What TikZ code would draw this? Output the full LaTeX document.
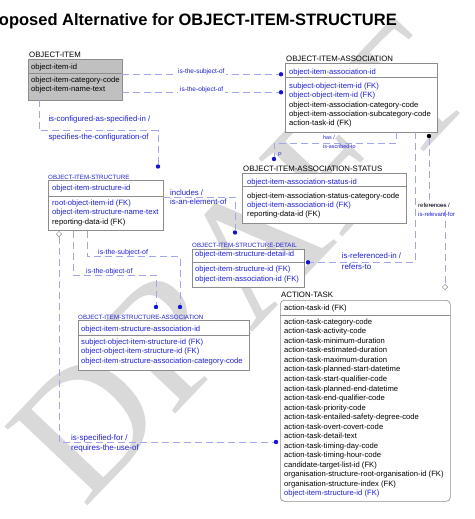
\documentclass[tikz,border=0pt]{standalone}
\usepackage{fontspec}
\setmainfont{Liberation Sans}
\newfontfamily\wmfont{Liberation Serif}
\usetikzlibrary{shapes.geometric}
\definecolor{txtblue}{RGB}{30,30,215}
\definecolor{relblue}{RGB}{160,166,232}
\definecolor{dotblue}{RGB}{20,20,210}
\definecolor{boxgray}{RGB}{140,140,140}
\definecolor{oifill}{RGB}{192,192,192}
\definecolor{wmgray}{RGB}{217,217,217}
\newcommand\entbox[6]{%
  \node[ebox, anchor=north west, minimum width=#4pt, minimum height=#5pt] (#1k) at (#2,#3) {};
  \node[ebox, anchor=north west, minimum width=#4pt, minimum height=#6pt] (#1d) at (#1k.south west) {};}
\newcommand\txtlines[5]{%
  \foreach \t/\c [count=\i] in {#5}
    \node[etxt, text=\c] (#1-\i) at (#2, {#3+(\i-1)*#4}) {\t};}
\begin{document}
\begin{tikzpicture}[x=1pt,y=-1pt,
  ebox/.style={draw=boxgray, line width=0.6pt, fill=white, inner sep=0pt, outer sep=0pt},
  etxt/.style={font=\fontsize{7.65}{8}\selectfont, inner sep=0pt, anchor=base west},
  hdr/.style={font=\fontsize{7.8}{8}\selectfont, inner sep=0pt, anchor=base west},
  hdrs/.style={font=\fontsize{6.2}{7}\selectfont, inner sep=0pt, anchor=base west, text=txtblue},
  rel/.style={draw=relblue, line width=0.7pt, dash pattern=on 7pt off 4pt},
  lab/.style={text=txtblue, inner sep=0pt, anchor=base west},
  dot/.style={circle, fill=dotblue, inner sep=0pt, minimum size=4.4pt},
  bdot/.style={circle, fill=black, inner sep=0pt, minimum size=4.4pt},
  dmd/.style={diamond, draw=boxgray, fill=white, line width=0.5pt, inner sep=0pt, minimum size=5.5pt}]
\useasboundingbox (0,0) rectangle (474,519);
\clip (0,0) rectangle (474,519);
% watermark
\node[text=wmgray, font=\wmfont\fontsize{175}{175}\selectfont, rotate=46.5, inner sep=0pt] (wm) at (240,262) {DRAFT};
% title
\node[font=\fontsize{16.5}{18}\selectfont\bfseries, inner sep=0pt, anchor=base east] (title) at (397,25.5) {Proposed Alternative for OBJECT-ITEM-STRUCTURE};

% ---------- OBJECT-ITEM
\node[hdr] (oih) at (29,57.5) {OBJECT-ITEM};
\node[ebox, fill=oifill, anchor=north west, minimum width=94pt, minimum height=14pt] (oik) at (28,59.3) {};
\node[ebox, fill=oifill, anchor=north west, minimum width=94pt, minimum height=26.7pt] (oid) at (oik.south west) {};
\txtlines{oit}{31}{69.5}{9}{object-item-id/black}
\txtlines{oiu}{31}{82.8}{8.8}{object-item-category-code/black,object-item-name-text/black}

% ---------- OBJECT-ITEM-ASSOCIATION
\node[hdr] (oiah) at (286,62) {OBJECT-ITEM-ASSOCIATION};
\entbox{oia}{285}{63.3}{152}{14}{55}
\txtlines{oiat}{289}{74.6}{9}{object-item-association-id/txtblue}
\txtlines{oiau}{289}{88.5}{9.35}{subject-object-item-id (FK)/txtblue,object-object-item-id (FK)/txtblue,object-item-association-category-code/black,object-item-association-subcategory-code/black,action-task-id (FK)/black}

% ---------- OBJECT-ITEM-ASSOCIATION-STATUS
\node[hdr] (oash) at (243,171.8) {OBJECT-ITEM-ASSOCIATION-STATUS};
\entbox{oas}{242}{173.3}{164}{13.4}{36.6}
\txtlines{oast}{247}{184.5}{9}{object-item-association-status-id/txtblue}
\txtlines{oasu}{247}{198.2}{8.9}{object-item-association-status-category-code/black,object-item-association-id (FK)/txtblue,reporting-data-id (FK)/black}

% ---------- OBJECT-ITEM-STRUCTURE
\node[hdrs] (oish) at (48,179) {OBJECT-ITEM-STRUCTURE};
\entbox{ois}{48}{180.7}{115}{15.3}{34.7}
\txtlines{oist}{52}{190.6}{9}{object-item-structure-id/txtblue}
\txtlines{oisu}{52}{205}{9.5}{root-object-item-id (FK)/txtblue,object-item-structure-name-text/txtblue,reporting-data-id (FK)/black}

% ---------- OBJECT-ITEM-STRUCTURE-DETAIL
\node[hdrs] (odh) at (192,247.5) {OBJECT-ITEM-STRUCTURE-DETAIL};
\entbox{od}{192}{249}{112}{13.3}{25.4}
\txtlines{odt}{195}{256.6}{9}{object-item-structure-detail-id/txtblue}
\txtlines{odu}{195}{271.6}{9.4}{object-item-structure-id (FK)/txtblue,object-item-association-id (FK)/txtblue}

% ---------- OBJECT-ITEM-STRUCTURE-ASSOCIATION
\node[hdrs] (osah) at (78,319) {OBJECT-ITEM-STRUCTURE-ASSOCIATION};
\entbox{osa}{78}{320.7}{171}{14.3}{35}
\txtlines{osat}{81}{331.6}{9}{object-item-structure-association-id/txtblue}
\txtlines{osau}{81}{344.6}{9.2}{subject-object-item-structure-id (FK)/txtblue,object-object-item-structure-id (FK)/txtblue,object-item-structure-association-category-code/txtblue}

% ---------- ACTION-TASK
\node[hdr] (ath) at (281,297.5) {ACTION-TASK};
\node[draw=boxgray, line width=0.6pt, fill=white, rounded corners=4pt, anchor=north west, minimum width=170pt, minimum height=201pt, inner sep=0pt] (at) at (280,300) {};
\coordinate (atdl) at (280,315);
\coordinate (atdr) at (450,315);
\draw[draw=boxgray, line width=0.6pt] (atdl) -- (atdr);
\txtlines{att}{284}{310}{9}{action-task-id (FK)/black}
\txtlines{atu}{284}{324.3}{9.53}{action-task-category-code/black,action-task-activity-code/black,action-task-minimum-duration/black,action-task-estimated-duration/black,action-task-maximum-duration/black,action-task-planned-start-datetime/black,action-task-start-qualifier-code/black,action-task-planned-end-datetime/black,action-task-end-qualifier-code/black,action-task-priority-code/black,action-task-entailed-safety-degree-code/black,action-task-overt-covert-code/black,action-task-detail-text/black,action-task-timing-day-code/black,action-task-timing-hour-code/black,candidate-target-list-id (FK)/black,organisation-structure-root-organisation-id (FK)/black,organisation-structure-index (FK)/black,object-item-structure-id (FK)/txtblue}

% ---------- relationship end points
\coordinate (s1) at (122,74.3);
\coordinate (s2) at (122,92.3);
\coordinate (s3) at (39,100);
\coordinate (s4) at (163,197);
\coordinate (s5) at (396,132.3);
\coordinate (s6) at (415,132.3);
\coordinate (s9) at (87,230.7);
\coordinate (s10) at (73,230.7);

% dots
\node[dot] (d1) at (281,74.3) {};
\node[dot] (d2) at (281,92.3) {};
\node[dot] (d3) at (158,166.5) {};
\node[dot] (d4) at (235,232.5) {};
\node[dot] (d5) at (274,159) {};
\node[dot] (d6) at (308,262.3) {};
\node[bdot] (d7) at (429,136) {};
\node[dot] (d8) at (276,442) {};
\node[dot] (d9) at (180,307) {};
\node[dot] (d10) at (156,307) {};
\node[dmd] (m1) at (445,287) {};
\node[dmd] (m2) at (59,234) {};

\draw[rel] (s1) -- (d1);
\draw[rel] (s2) -- (d2);
\draw[rel] (s3) |- (158,130.7) -- (d3);
\draw[rel] (s4) -| (d4);
\draw[rel] (s5) |- (274,143.3) -- (d5);
\draw[rel] (s6) |- (d6);
\draw[rel] (d7) -- (429,205) -- (445,205) -- (m1);
\draw[rel] (m2) |- (d8);
\draw[rel] (s9) |- (180,256.7) -- (d9);
\draw[rel] (s10) |- (156,275) -- (d10);

% labels
\node[lab, fill=white, inner xsep=2pt, inner ysep=0.5pt, font=\fontsize{6.5}{7}\selectfont] (l1) at (176,73.8) {is-the-subject-of};
\node[lab, fill=white, inner xsep=2pt, inner ysep=0.5pt, font=\fontsize{6.5}{7}\selectfont] (l2) at (178,91.8) {is-the-object-of};
\node[lab, font=\fontsize{7.8}{8}\selectfont] (l3a) at (48.3,121.3) {is-configured-as-specified-in /};
\node[lab, font=\fontsize{7.8}{8}\selectfont] (l3b) at (48.3,139) {specifies-the-configuration-of};
\node[lab, font=\fontsize{7.8}{8}\selectfont] (l4a) at (170,195) {includes /};
\node[lab, font=\fontsize{7.8}{8}\selectfont] (l4b) at (170,204.5) {is-an-element-of};
\node[lab, font=\fontsize{5.4}{6}\selectfont] (l5a) at (323,139) {has /};
\node[lab, font=\fontsize{5.4}{6}\selectfont] (l5b) at (323,148.5) {is-ascribed-to};
\node[lab, font=\fontsize{5.4}{6}\selectfont] (l5p) at (278,156.5) {P};
\node[lab, font=\fontsize{7.9}{8}\selectfont] (l6a) at (341.7,258.3) {is-referenced-in /};
\node[lab, font=\fontsize{7.9}{8}\selectfont] (l6b) at (341.7,269) {refers-to};
\node[lab, font=\fontsize{6}{6}\selectfont, text=black] (l7a) at (418,207) {references /};
\node[lab, font=\fontsize{6}{6}\selectfont] (l7b) at (418,216) {is-relevant-for};
\node[lab, font=\fontsize{8}{8}\selectfont] (l8a) at (71,440) {is-specified-for /};
\node[lab, font=\fontsize{8}{8}\selectfont] (l8b) at (71,450) {requires-the-use-of};
\node[lab, font=\fontsize{7}{7}\selectfont] (l9) at (98,254) {is-the-subject-of};
\node[lab, font=\fontsize{7}{7}\selectfont] (l10) at (86,273) {is-the-object-of};
\end{tikzpicture}
\end{document}
